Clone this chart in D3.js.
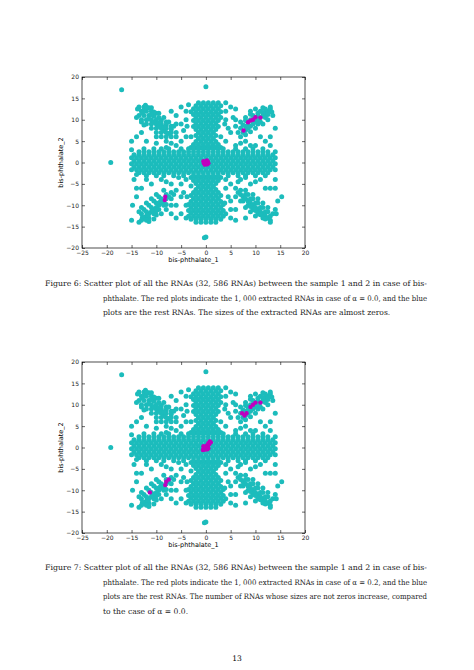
<!DOCTYPE html>
<html><head><meta charset="utf-8">
<script src="https://cdn.jsdelivr.net/npm/d3@7"></script>
<style>body{margin:0;background:#fff}</style>
</head><body>
<div id="page"></div>
<script>
// tick labels
const xTicks = [-25, -20, -15, -10, -5, 0, 5, 10, 15, 20]
const yTicks = [-20, -15, -10, -5, 0, 5, 10, 15, 20]

// central vertical arm: [y, [x...]]
const vArm = [
  [14, [-1.5,-0.5,0.5,1.5,2.5]], [13.3, [-2,-1,0,1,2,3]], [12.6, [-2.5,-1.5,-0.5,0.5,1.5,2.5]],
  [11.9, [-3,-2,-1,0,1,2,3]], [11.2, [-2.5,-1.5,-0.5,0.5,1.5,2.5]], [10.5, [-2,-1,0,1,2,3]],
  [9.8, [-2.5,-1.5,-0.5,0.5,1.5,2.5]], [9.1, [-2,-1,0,1,2]], [8.4, [-2.5,-1.5,-0.5,0.5,1.5,2.5]],
  [7.7, [-2,-1,0,1,2]], [7, [-1.5,-0.5,0.5,1.5]], [6.3, [-2,-1,0,1,2]], [5.6, [-1.5,-0.5,0.5,1.5]],
  [4.9, [-2,-1,0,1,2]], [4.2, [-2.5,-1.5,-0.5,0.5,1.5,2.5]], [3.5, [-3,-2,-1,0,1,2,3]],
  [-3.5, [-3,-2,-1,0,1,2,3]], [-4.2, [-2.5,-1.5,-0.5,0.5,1.5,2.5]], [-4.9, [-2,-1,0,1,2]],
  [-5.6, [-1.5,-0.5,0.5,1.5]], [-6.3, [-2,-1,0,1,2]], [-7, [-2.5,-1.5,-0.5,0.5,1.5,2.5]],
  [-7.7, [-3,-2,-1,0,1,2,3]], [-8.4, [-2.5,-1.5,-0.5,0.5,1.5,2.5]], [-9.1, [-3,-2,-1,0,1,2,3]],
  [-9.8, [-3.5,-2.5,-1.5,-0.5,0.5,1.5,2.5,3.5]], [-10.5, [-3,-2,-1,0,1,2,3]],
  [-11.2, [-3.5,-2.5,-1.5,-0.5,0.5,1.5,2.5,3.5]], [-11.9, [-3,-2,-1,0,1,2,3]],
  [-12.6, [-3.5,-2.5,-1.5,-0.5,0.5,1.5,2.5,3.5]], [-13.3, [-3,-2,-1,0,1,2,3]], [-14, [-2,-1,0,1,2]]
]

// central horizontal arm: [y, [x...]]
const hArm = [
  [3.2, [-12.5,-10.5,-9,-7.5,-5,-3.5,-2.5,-1.5,-0.5,0.5,1.5,2.5,3.5,6,8,9.5,11.5]],
  [2.5, [-13.5,-12.5,-11.5,-10.5,-9.5,-8.5,-7.5,-6.5,-5.5,-4.5,-3.5,-2.5,-1.5,-0.5,0.5,1.5,2.5,3.5,4.5,5.5,6.5,7.5,8.5,9.5,10.5,11.5,12.5]],
  [1.8, [-14.5,-13.5,-12.5,-11.5,-10.5,-9.5,-8.5,-7.5,-6.5,-5.5,-4.5,-3.5,-2.5,-1.5,-0.5,0.5,1.5,2.5,3.5,4.5,5.5,6.5,7.5,8.5,9.5,10.5,11.5,12.5,13.5]],
  [1.1, [-15,-14,-13,-12,-11,-10,-9,-8,-7,-6,-5,-4,-3,-2,-1,0,1,2,3,4,5,6,7,8,9,10,11,12,13,14]],
  [0.4, [-14.5,-13.5,-12.5,-11.5,-10.5,-9.5,-8.5,-7.5,-6.5,-5.5,-4.5,-3.5,-2.5,-1.5,-0.5,0.5,1.5,2.5,3.5,4.5,5.5,6.5,7.5,8.5,9.5,10.5,11.5,12.5,13.5]],
  [-0.3, [-15,-14,-13,-12,-11,-10,-9,-8,-7,-6,-5,-4,-3,-2,-1,0,1,2,3,4,5,6,7,8,9,10,11,12,13,14]],
  [-1, [-14.5,-13.5,-12.5,-11.5,-10.5,-9.5,-8.5,-7.5,-6.5,-5.5,-4.5,-3.5,-2.5,-1.5,-0.5,0.5,1.5,2.5,3.5,4.5,5.5,6.5,7.5,8.5,9.5,10.5,11.5,12.5,13.5]],
  [-1.7, [-15,-14,-13,-12,-11,-10,-9,-8,-7,-6,-5,-4,-3,-2,-1,0,1,2,3,4,5,6,7,8,9,10,11,12,13,14]],
  [-2.4, [-13.5,-12.5,-11.5,-10.5,-9.5,-8.5,-7.5,-6.5,-5.5,-4.5,-3.5,-2.5,-1.5,-0.5,0.5,1.5,2.5,3.5,4.5,5.5,6.5,7.5,8.5,9.5,10.5,11.5,12.5]],
  [-3.1, [-12,-10,-8.5,-6.5,-4.5,-2.5,-1.5,-0.5,0.5,1.5,2.5,4.5,6.5,8,10,12]]
]

// diagonal blobs [x, y]
const blobUL = [[-13.5,13],[-12.5,13],[-11.5,12.8],[-13,12],[-12,12],[-11,12],[-10,11.5],[-13.5,11],[-12.5,11],[-11.5,11],[-10.5,10.8],[-9.5,10.5],[-12,10],[-11,10],[-10,10],[-9,9.8],[-8,9.5],[-11,9],[-10,9],[-9,9],[-8,8.8],[-7,8.5],[-10,8],[-9,8],[-8,8],[-7,7.8],[-9,7],[-8,7],[-7,7],[-6,7],[-8,6],[-7,6],[-6,6],[-12.5,12.2],[-11.5,10.2],[-10.5,9.4],[-9.5,8.5],[-8.5,7.5],[-7.5,6.8],[-13.8,12.5],[-12.2,13.4],[-10.5,11.8],[-11,11.2],[-9.5,9.3],[-8.5,8.3],[-12.8,11.6],[-14,10.5],[-13,10],[-12,9],[-11,8],[-10,7],[-9,6],[-12,13],[-11,12.8],[-9.5,11.5],[-8.5,10.5],[-7.5,9.5],[-6.5,8.5],[-13,9.5],[-12.5,8.8]]
const blobUR = [[7,6],[7.5,7],[8,7.5],[8.5,8],[7,8],[8,8.5],[9,8.5],[9.5,9],[8.5,9.5],[9,10],[10,9.5],[10.5,10],[10,10.5],[11,10.5],[11.5,11],[10.5,11.5],[11,12],[12,11.5],[12.5,12],[12,12.5],[13,12.5],[13,13],[11.5,12.8],[9.5,11],[10.5,9],[12,10.5],[8,9.8],[7.5,8.8],[13.3,11.8],[6.5,7],[11,9.5],[9,11.3],[9.5,10],[10.5,10.8],[11.5,11.7],[8.5,8.8],[12.5,11.2],[6,8.5],[7,9.5],[8,10.5],[9,12],[10,12.5],[8,6.5],[9,7.2],[10,8],[11.5,9],[12.5,10],[13.5,11]]
const blobLL = [[-7,-7],[-7.5,-8],[-8,-7.5],[-8,-8.5],[-8.5,-9],[-9,-8.5],[-9,-9.5],[-9.5,-10],[-10,-9.5],[-10,-10.5],[-10.5,-11],[-11,-10.5],[-11,-11.5],[-11.5,-12],[-12,-11.5],[-12,-12.5],[-12.5,-13],[-11.5,-13],[-10.5,-12],[-9.5,-11],[-8.5,-10],[-12.5,-11],[-11.5,-10],[-10.5,-9],[-9.5,-8],[-7,-8.5],[-6.5,-7.5],[-12,-13.5],[-13,-12],[-8,-9.8],[-10,-12.3],[-11.5,-13.8],[-10.8,-11.2],[-9.2,-9.2],[-11.8,-12.3],[-10,-11.3],[-12.8,-12.8],[-9,-12],[-8,-11],[-7,-10],[-10.5,-13.2],[-13,-10.5],[-12,-9.5],[-11,-8.5],[-10,-7.5],[-8.5,-6.5],[-13.5,-11.5]]
const blobLR = [[6,-6],[6.5,-7],[7,-6.5],[7,-7.5],[7.5,-8],[8,-7.5],[8,-8.5],[8.5,-9],[9,-8.5],[9,-9.5],[9.5,-10],[10,-9.5],[10,-10.5],[10.5,-11],[11,-10.5],[11,-11.5],[11.5,-12],[12,-11.5],[12,-12.5],[12.5,-13],[13,-12.5],[13,-13.5],[11.5,-13],[10.5,-12],[9.5,-11],[8.5,-10],[7.5,-9],[8.5,-7.5],[9.5,-8.5],[10.5,-9.5],[11.5,-10.5],[12.5,-11.5],[13.5,-12],[9,-10.3],[10,-11.2],[11,-12.2],[12,-13.2],[6,-8],[7,-9],[8,-10.5],[9,-11.5],[10,-12.5],[8,-6.5],[9.5,-7.5],[10.5,-8.5],[11.5,-9.5],[12.5,-10.5]]

// sparse points and outliers [x, y]
const sparse = [[-14,6],[-12,5],[-10,4.5],[-8,5],[-6,4],[-5,9],[-4,12],[-4,6],[-3.5,13.5],[-6,11],[4,12],[5,13],[4.5,8],[6,4],[8,5],[10,4],[12,5],[13,4],[14,2.5],[-14.5,-4],[-13,-6],[-11,-5],[-9,-4],[-7,-5],[-5,-8],[-4,-10],[-5,-12],[-6,-13],[-13,-13.5],[-14,-8],[4,-6],[5,-9],[4,-12],[5,-13],[6,-11],[7,-4],[9,-5],[11,-4],[13,-6],[14,-4],[15.3,-8],[14,-11],[-3,-5.5],[3,6],[-3,6],[4,-4],[-4,-4],[5.5,10.5],[-7,12],[14.2,-12],[-13.5,-14],[13,-14],[-15,3],[-14,-2.8],[-5.5,-3.5],[6,12.5],[-8,3.5],[8,-3.5],
  [-5,5],[-4.5,7.5],[-6,9],[-4,10],[-5,13],[-7,4.5],[-10,6],[-13,7],[-15,5],[4,5],[5,7],[4,10],[6,10],[7,4.5],[9,4],[11,6],[13,6],[14,8],[4,14],[-5,-5],[-6,-6.5],[-4.5,-7],[-6,-10],[-4,-13],[-7,-12],[-8,-4.5],[-12,-4],[-14,-6],[-14.8,-10],[5,-5],[6.5,-4.5],[4.5,-8],[5,-11],[6,-13.5],[8,-13],[10,-4.5],[12,-6],[14,-6],[14.5,-9],[-15,-13.5],[-3.8,8.5],[3.8,-9.5],[-3.8,-8],[3.8,9]]
const outliers = [[-17,17],[-19.2,0],[0,17.7],[0,-17.4],[-0.3,-17.6]]

// extracted RNAs (magenta)
const red00 = [[0,0],[0.4,0.2],[-0.4,-0.2],[0.2,0.5],[-0.2,-0.5],[0.5,-0.2],[-0.5,0.3],[0.3,-0.4],[7.6,7.5],[8.5,9.4],[9,9.8],[9.5,10],[10,10.6],[11,10.5],[-8.2,-8],[-8.3,-8.8]]
const red02 = [[0,0],[0.4,0.2],[-0.4,-0.2],[0.2,0.5],[-0.2,-0.5],[0.5,-0.2],[-0.5,0.3],[0.3,-0.4],[0.7,0.8],[1,1.2],[0.5,1],[0.8,1.4],[-0.6,-0.6],[7.3,8],[7.8,7.5],[8.2,8],[9,9.5],[9.5,10],[10,10.5],[11,10.5],[-8,-8],[-8.2,-8.8],[-7.5,-7.5],[-11.3,-10.5]]

const cyanPts = []
vArm.forEach(([y, xs]) => xs.forEach(x => cyanPts.push([x, y])))
hArm.forEach(([y, xs]) => xs.forEach(x => cyanPts.push([x, y])))
cyanPts.push(...blobUL, ...blobUR, ...blobLL, ...blobLR, ...sparse, ...outliers)

const W = 474, H = 670
const svg = d3.select("#page").append("svg").attr("width", W).attr("height", H)

const PW = 223, PH = 171

function drawChart(top, redPts) {
  const g = svg.append("g").attr("transform", `translate(82, ${top})`)
  const x = d3.scaleLinear().domain([-25, 20]).range([0, PW])
  const y = d3.scaleLinear().domain([-20, 20]).range([PH, 0])

  g.append("clipPath").attr("id", "c" + top)
    .append("rect").attr("width", PW).attr("height", PH)

  const pts = g.append("g").attr("clip-path", `url(#c${top})`)
  pts.selectAll(".cy").data(cyanPts).enter().append("circle")
    .attr("cx", d => x(d[0])).attr("cy", d => y(d[1])).attr("r", 2.5)
    .attr("fill", "#1cbcbc")
  pts.selectAll(".rd").data(redPts).enter().append("circle")
    .attr("cx", d => x(d[0])).attr("cy", d => y(d[1])).attr("r", 2.2)
    .attr("fill", "#bf00bf")

  const style = a => {
    a.select(".domain").remove()
    a.selectAll("text").attr("font-family", "DejaVu Sans").attr("font-size", 6).attr("fill", "#222")
    a.selectAll("line").attr("stroke", "#000").attr("stroke-width", 0.6)
  }
  g.append("g").attr("transform", `translate(0,${PH})`)
    .call(d3.axisBottom(x).tickValues(xTicks).tickSize(-3).tickPadding(3)).call(style)
  g.append("g").call(d3.axisTop(x).tickValues(xTicks).tickSize(-3).tickFormat("")).call(style)
  g.append("g").call(d3.axisLeft(y).tickValues(yTicks).tickSize(-3).tickPadding(3)).call(style)
  g.append("g").attr("transform", `translate(${PW},0)`)
    .call(d3.axisRight(y).tickValues(yTicks).tickSize(-3).tickFormat("")).call(style)
  g.append("rect").attr("width", PW).attr("height", PH)
    .attr("fill", "none").attr("stroke", "#000").attr("stroke-width", 0.7)

  g.append("text").attr("x", PW / 2).attr("y", PH + 14)
    .attr("text-anchor", "middle").attr("font-family", "DejaVu Sans").attr("font-size", 6.5)
    .text("bis-phthalate_1")
  g.append("text").attr("transform", `translate(-19,${PH / 2}) rotate(-90)`)
    .attr("text-anchor", "middle").attr("font-family", "DejaVu Sans").attr("font-size", 6.5)
    .text("bis-phthalate_2")
}

drawChart(77, red00)
drawChart(362, red02)

function caption(top, lines) {
  lines.forEach((l, i) => {
    const t = svg.append("text").attr("x", i === 0 ? 45 : 103).attr("y", top + i * 14.6)
      .attr("font-family", "DejaVu Serif").attr("font-size", 7.6).attr("fill", "#222")
      .text(l.t)
    if (l.j) t.attr("textLength", 427 - (i === 0 ? 45 : 103)).attr("lengthAdjust", "spacingAndGlyphs")
  })
}
caption(286, [
  {t: "Figure 6: Scatter plot of all the RNAs (32, 586 RNAs) between the sample 1 and 2 in case of bis-", j: true},
  {t: "phthalate. The red plots indicate the 1, 000 extracted RNAs in case of α = 0.0, and the blue", j: true},
  {t: "plots are the rest RNAs. The sizes of the extracted RNAs are almost zeros."}
])
caption(570, [
  {t: "Figure 7: Scatter plot of all the RNAs (32, 586 RNAs) between the sample 1 and 2 in case of bis-", j: true},
  {t: "phthalate. The red plots indicate the 1, 000 extracted RNAs in case of α = 0.2, and the blue", j: true},
  {t: "plots are the rest RNAs. The number of RNAs whose sizes are not zeros increase, compared", j: true},
  {t: "to the case of α = 0.0."}
])
svg.append("text").attr("x", 237).attr("y", 661).attr("text-anchor", "middle")
  .attr("font-family", "DejaVu Serif").attr("font-size", 7.6).text("13")
</script>
</body></html>
